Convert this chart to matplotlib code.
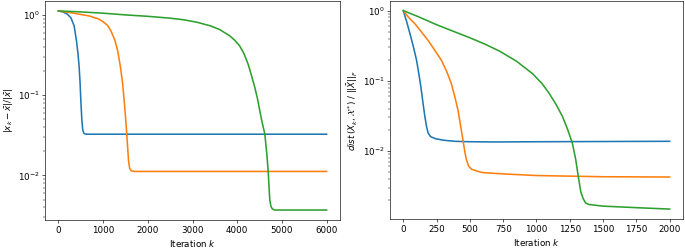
import matplotlib
matplotlib.use("Agg")
import matplotlib.pyplot as plt

# left panel: relative error vs iteration
left_blue_k = [0, 100, 200, 280, 352, 404, 440, 465, 485, 502, 525, 545, 565, 590, 640, 800, 1500, 3000, 4500, 6000]
left_blue_v = [1.12, 1.09, 1.02, 0.92, 0.73, 0.475, 0.32, 0.22, 0.14, 0.085, 0.048, 0.037, 0.0338, 0.0329, 0.0326, 0.0326, 0.0326, 0.0326, 0.0326, 0.0326]

left_orange_k = [0, 300, 689, 900, 988, 1100, 1176, 1260, 1326, 1390, 1437, 1480, 1513, 1545, 1570, 1595, 1630, 1700, 2500, 4000, 6000]
left_orange_v = [1.12, 1.06, 0.97, 0.89, 0.83, 0.74, 0.63, 0.49, 0.357, 0.22, 0.138, 0.075, 0.044, 0.024, 0.015, 0.0122, 0.0114, 0.0112, 0.0112, 0.0112, 0.0112]

left_green_k = [0, 500, 1000, 1500, 2000, 2500, 2800, 3100, 3400, 3600, 3831, 3950, 4056, 4100, 4150, 4243, 4320, 4393, 4450, 4505, 4560, 4617, 4660, 4692, 4710, 4729, 4755, 4782, 4830, 5500, 6000]
left_green_v = [1.12, 1.09, 1.05, 1.0, 0.96, 0.91, 0.87, 0.81, 0.73, 0.66, 0.55, 0.48, 0.41, 0.37, 0.33, 0.244, 0.175, 0.125, 0.092, 0.064, 0.045, 0.033, 0.019, 0.0115, 0.0075, 0.0049, 0.0041, 0.00385, 0.0037, 0.0037, 0.0037]

# right panel: distance to solution set vs iteration
right_blue_k = [0, 25, 50, 75, 100, 120, 132, 150, 162, 175, 187, 205, 237, 300, 386, 500, 700, 1000, 1500, 2000]
right_blue_v = [1.0, 0.7, 0.47, 0.31, 0.195, 0.115, 0.082, 0.045, 0.031, 0.022, 0.0178, 0.0160, 0.015, 0.0142, 0.0137, 0.0135, 0.0134, 0.0135, 0.0136, 0.0137]

right_orange_k = [0, 40, 87, 187, 287, 330, 361, 390, 411, 430, 448, 462, 474, 490, 511, 560, 598, 750, 1000, 1500, 2000]
right_orange_v = [1.0, 0.8, 0.65, 0.375, 0.195, 0.13, 0.091, 0.056, 0.038, 0.023, 0.0143, 0.0097, 0.0075, 0.0061, 0.0055, 0.0051, 0.0049, 0.0047, 0.00445, 0.00428, 0.00424]

right_green_k = [0, 112, 250, 361, 500, 610, 722, 850, 971, 1040, 1096, 1150, 1195, 1235, 1270, 1295, 1315, 1333, 1350, 1370, 1395, 1500, 1750, 2000]
right_green_v = [1.0, 0.82, 0.63, 0.52, 0.41, 0.335, 0.265, 0.19, 0.126, 0.092, 0.066, 0.045, 0.031, 0.02, 0.0128, 0.0075, 0.0042, 0.0026, 0.0021, 0.0018, 0.00172, 0.00163, 0.00155, 0.00148]

DPI = 57
plt.rcParams['font.size'] = 11
fig = plt.figure(figsize=(685 / DPI, 249 / DPI), dpi=DPI)
ax1 = fig.add_axes([0.0657, 0.1165, 0.4307, 0.8795])
ax2 = fig.add_axes([0.5693, 0.1205, 0.4277, 0.8767])

for k, v in [(left_blue_k, left_blue_v), (left_orange_k, left_orange_v), (left_green_k, left_green_v)]:
    ax1.semilogy(k, v, lw=2)
ax1.set_xlabel('Iteration $k$')
ax1.set_ylabel(r'$|x_k - \bar{x}| / |\bar{x}|$')

for k, v in [(right_blue_k, right_blue_v), (right_orange_k, right_orange_v), (right_green_k, right_green_v)]:
    ax2.semilogy(k, v, lw=2)
ax2.set_xlabel('Iteration $k$')
ax2.set_ylabel(r'$dist\,(X_k, \mathcal{X}^*)\;/\;||\bar{X}||_F$')

fig.savefig('out.png', dpi=DPI)
